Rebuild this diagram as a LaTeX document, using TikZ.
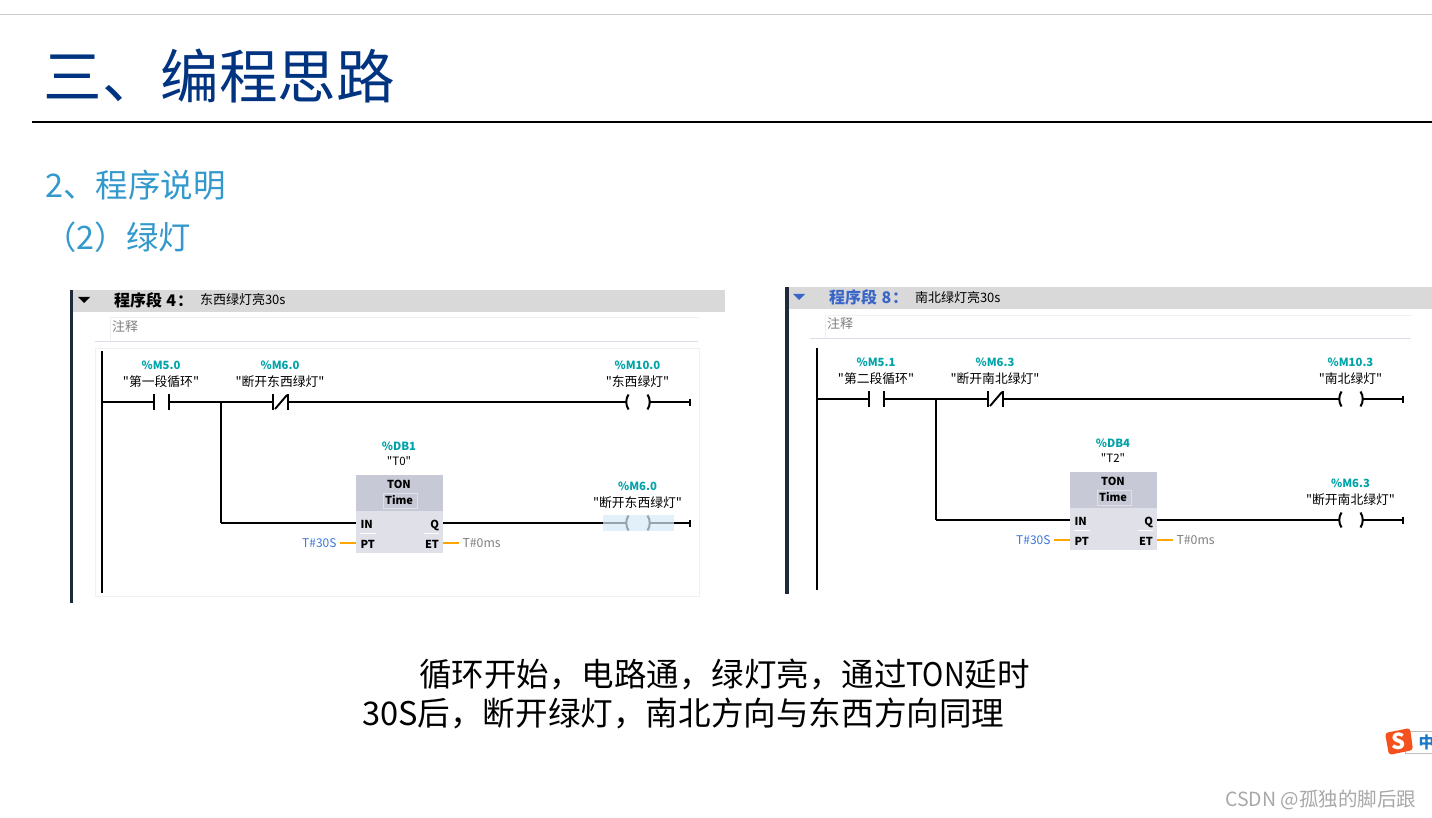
\documentclass[tikz,border=0pt]{standalone}
\usepackage{fontspec}
\setmainfont{Noto Sans CJK SC}
\newfontfamily\plainfont{Noto Sans CJK SC}
\definecolor{titleblue}{HTML}{003380}
\definecolor{subblue}{HTML}{3399CC}
\definecolor{hdrgray}{HTML}{D9D9D9}
\definecolor{railnavy}{HTML}{1E2A3A}
\definecolor{tagteal}{HTML}{00A3A8}
\definecolor{boxhead}{HTML}{C7C9D6}
\definecolor{boxbody}{HTML}{DFE0E8}
\definecolor{wireorange}{RGB}{255,165,0}
\definecolor{constblue}{HTML}{3C78D8}
\definecolor{hilite}{HTML}{D5EBF7}
\definecolor{lavline}{HTML}{DCDCEC}
\definecolor{frameline}{HTML}{F0F0F0}
\definecolor{secblue}{HTML}{3A66C8}
\definecolor{wmgray}{HTML}{A8A8A8}
\definecolor{sogou}{HTML}{F4511E}
\definecolor{zhblue}{HTML}{1A78C8}
\definecolor{valgray}{HTML}{808080}
\newcommand{\fsz}[1]{\fontsize{#1}{#1}\selectfont}
\newcommand{\qq}[1]{{\plainfont"}#1{\plainfont"}}
\newcommand{\coilshift}{0}
\newcommand{\boxshift}{0}
\tikzset{
  x=1pt,y=-1pt,
  txt/.style={inner sep=0pt,outer sep=0pt,anchor=base},
  txtw/.style={inner sep=0pt,outer sep=0pt,anchor=base west},
  txte/.style={inner sep=0pt,outer sep=0pt,anchor=base east},
  tag/.style={txt,text=tagteal,font=\fsz{11.3}\bfseries},
  sym/.style={txt,text=black,font=\fsz{12.8}},
  pin/.style={txt,text=black,font=\fsz{11}\bfseries},
  wire/.style={draw=black,line width=1.9pt},
  bar/.style={draw=black,line width=2pt},
  const wire/.style={draw=wireorange,line width=1.6pt},
  pt/.style={inner sep=0pt,outer sep=0pt,minimum size=0pt},
}
% #1 prefix, #2/#3 first contact, #4/#5 NC contact & reset coil, #6/#7 top coil, #8/#9 timer
\newcommand{\ladder}[9]{%
  \coordinate (#1r1) at (102,402);
  \coordinate (#1c1l) at (154,402);
  \coordinate (#1c1r) at (169,402);
  \coordinate (#1j) at (221,402);
  \coordinate (#1c2l) at (273,402);
  \coordinate (#1c2r) at (288,402);
  \coordinate (#1jb) at (221,523);
  \draw[bar] (102,351) -- (102,593);
  \node[tag] (#1t1) at (161,369) {#2};
  \node[sym] (#1s1) at (161,386) {\qq{#3}};
  \node[tag] (#1t2) at (280,369) {#4};
  \node[sym] (#1s2) at (280,386) {\qq{#5}};
  \begin{scope}[xshift=\coilshift pt]
  \coordinate (#1c3l) at (627,402);
  \coordinate (#1c3r) at (650,402);
  \coordinate (#1e1) at (690,402);
  \coordinate (#1c4l) at (627,523);
  \coordinate (#1c4r) at (650,523);
  \coordinate (#1e2) at (690,523);
  \node[tag] (#1t3) at (637.5,369) {#6};
  \node[sym] (#1s3) at (637.5,386) {\qq{#7}};
  \node[tag] (#1t5) at (637.5,490) {#4};
  \node[sym] (#1s5) at (637.5,507) {\qq{#5}};
  \draw[bar] (628.5,394.5) .. controls (625.5,399) and (625.5,405) .. (628.5,409.5);
  \draw[bar] (647.5,394.5) .. controls (650.5,399) and (650.5,405) .. (647.5,409.5);
  \draw[bar,line width=2.4pt] (690,398.5) -- (690,405.5);
  \draw[bar] (628.5,515.5) .. controls (625.5,520) and (625.5,526) .. (628.5,530.5);
  \draw[bar] (647.5,515.5) .. controls (650.5,520) and (650.5,526) .. (647.5,530.5);
  \draw[bar,line width=2.4pt] (690,519.5) -- (690,526.5);
  \end{scope}
  % rung 1
  \draw[wire] (#1r1) -- (#1c1l);
  \draw[wire] (#1c1r) -- (#1j);
  \draw[wire] (#1j) -- (#1c2l);
  \draw[wire] (#1c2r) -- (#1c3l);
  \draw[wire] (#1c3r) -- (#1e1);
  \draw[bar] (154,394) -- (154,410);
  \draw[bar] (169,394) -- (169,410);
  \draw[bar] (273,394) -- (273,410);
  \draw[bar] (288,394) -- (288,410);
  \draw[wire] (275,409) -- (287,395);
  % timer box
  \begin{scope}[xshift=\boxshift pt]
  \coordinate (#1ptc) at (340,543);
  \coordinate (#1etc) at (459,543);
  \node[tag] (#1t4) at (399,450) {#8};
  \node[sym,font=\fsz{11.5}] (#1s4) at (399,465) {\qq{#9}};
  \fill[boxbody] (356,475) rectangle (443,553);
  \fill[boxhead] (356,475) rectangle (443,510.5);
  \node[pt,minimum width=87pt,minimum height=78pt] (#1box) at (399.5,514) {};
  \draw[draw=boxbody,line width=0.8pt,fill=boxhead] (383,493) rectangle (417,508);
  \node[pin] (#1ton) at (399,488) {TON};
  \node[pin] (#1time) at (399,504) {Time};
  \node[pin,anchor=base west] (#1in) at (360.5,528) {IN};
  \node[pin,anchor=base west] (#1pt) at (360.5,548) {PT};
  \node[pin,anchor=base east] (#1q) at (439,528) {Q};
  \node[pin,anchor=base east] (#1et) at (439,548) {ET};
  \draw[draw=white,line width=0.8pt] (360,533.5) -- (376,533.5) (424,533.5) -- (439,533.5);
  \node[txte,text=constblue,font=\fsz{12}] (#1ptv) at (336.5,547.5) {T\#30S};
  \node[txtw,text=valgray,font=\fsz{12.3}] (#1etv) at (462.5,547.5) {T\#0ms};
  \end{scope}
  % rung 2
  \draw[wire] (#1j) -- (#1jb);
  \draw[wire] (#1jb) -- (#1box.west |- #1jb);
  \draw[wire] (#1box.east |- #1jb) -- (#1c4l);
  \draw[wire] (#1c4r) -- (#1e2);
}
\begin{document}
\begin{tikzpicture}
\useasboundingbox (0,0) rectangle (1432,818);
\fill[white] (0,0) rectangle (1432,818);
\draw[draw=black!20,line width=1pt] (0,14.5) -- (1432,14.5);
\node[txtw,text=titleblue,font=\fsz{58.6}] (title) at (43.5,99) {三、编程思路};
\coordinate (ruleL) at (32,122);
\coordinate (ruleR) at (1432,122);
\draw[draw=black,line width=2pt] (ruleL) -- (ruleR);
\node[txtw,text=subblue,font=\fsz{32.5}] (sub1) at (45,198) {2、程序说明};
\node[txtw,text=subblue,font=\fsz{32.3}] (sub2) at (44,250) {（2）绿灯};

% left panel
\fill[railnavy] (69.5,290) rectangle (73,603);
\fill[hdrgray] (73,290) rectangle (725,312);
\fill[black] (78,297) -- (90,297) -- (84,303) -- cycle;
\node[txtw,font=\fsz{16}\bfseries,text=black] (h1) at (114,306) {程序段\hspace{4.5pt}4\hspace{1pt}：};
\node[txtw,font=\fsz{13},text=black] (h1b) at (200,305) {东西绿灯亮30s};
\draw[draw=frameline,line width=1pt] (110,341) |- (699,317);
\node[txtw,font=\fsz{13},text=black!50] (c1) at (112,331) {注释};
\draw[draw=lavline,line width=1pt] (95,341) -- (698,341);
\draw[draw=frameline,line width=1pt] (95.5,348.5) rectangle (699,596);
\ladder{a}{\%M5.0}{第一段循环}{\%M6.0}{断开东西绿灯}{\%M10.0}{东西绿灯}{\%DB1}{T0}
\fill[hilite,opacity=.7] (603,515) rectangle (674,531);

% right panel
\fill[railnavy] (785,287) rectangle (788.5,594);
\fill[hdrgray] (788.5,287) rectangle (1432,309);
\fill[secblue] (793,294) -- (805,294) -- (799,300) -- cycle;
\node[txtw,font=\fsz{16}\bfseries,text=secblue] (h2) at (829,303) {程序段\hspace{4.5pt}8\hspace{1pt}：};
\node[txtw,font=\fsz{13},text=black] (h2b) at (915,302) {南北绿灯亮30s};
\draw[draw=frameline,line width=1pt] (825,338) |- (1411,315);
\node[txtw,font=\fsz{13},text=black!50] (c2) at (827,328) {注释};
\draw[draw=lavline,line width=1pt] (810,338.5) -- (1411,338.5);
\renewcommand{\coilshift}{-2}
\renewcommand{\boxshift}{-1}
\begin{scope}[shift={(715,-3)}]
\ladder{b}{\%M5.1}{第二段循环}{\%M6.3}{断开南北绿灯}{\%M10.3}{南北绿灯}{\%DB4}{T2}
\end{scope}

% orange constant wires
\draw[const wire] (bptc) -- (bbox.west |- bptc);
\draw[const wire] (bbox.east |- betc) -- (betc);
\draw[const wire] (aptc) -- (abox.west |- aptc);
\draw[const wire] (abox.east |- aetc) -- (aetc);

% caption
\node[txtw,font=\fsz{32.5},text=black] (cap1) at (419,686) {循环开始，电路通，绿灯亮，通过\scalebox{.88}[1]{TON}延时};
\node[txtw,font=\fsz{32.6},text=black] (cap2) at (362,725) {30S后，断开绿灯，南北方向与东西方向同理};

% IME badge and watermark
\fill[white,draw=black!25,line width=0.8pt] (1405,731.5) rectangle (1440,753);
\fill[rounded corners=3pt,fill=sogou] (1385,733) -- (1410,728) -- (1413,750) -- (1389,755) -- cycle;
\node[txt,text=white,font=\fsz{22}\bfseries] (sg) at (1399,749.5) {S};
\node[txtw,text=zhblue,font=\fsz{16}\bfseries] (zh) at (1418.5,748) {中};
\node[txte,text=wmgray,font=\fsz{19.5}] (wm) at (1416,806) {CSDN @孤独的脚后跟};
\end{tikzpicture}
\end{document}
